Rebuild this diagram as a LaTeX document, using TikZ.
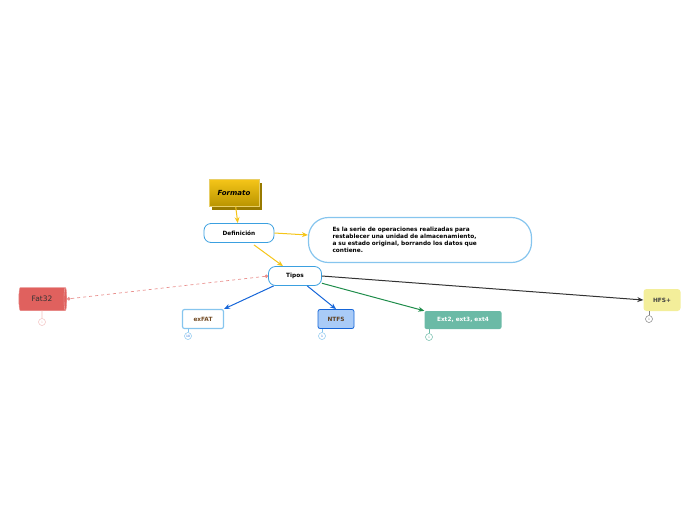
\documentclass[tikz,border=0pt]{standalone}
\usepackage{fontspec}
\setmainfont{DejaVu Sans}
\usetikzlibrary{arrows.meta,shapes.geometric,shadows,calc}
\definecolor{cbl}{HTML}{3BA0E0}
\definecolor{clbl}{HTML}{86C5EE}
\definecolor{cgold}{HTML}{D9AE00}
\definecolor{cyel}{HTML}{F5C518}
\definecolor{cfat}{HTML}{E0615E}
\definecolor{cblu}{HTML}{1565D8}
\definecolor{cgrn}{HTML}{1E8C4A}
\definecolor{cteal}{HTML}{6BBAA6}
\definecolor{chfs}{HTML}{F3EE9A}
\definecolor{cnt}{HTML}{A9CBF7}
\tikzset{
 every node/.style={font=\bfseries\fontsize{5.8}{7}\selectfont},
 rbox/.style={draw=cbl,line width=0.8pt,rounded corners=7pt,fill=white,minimum height=19pt,align=center},
 badge/.style={circle,draw,line width=0.5pt,minimum size=7pt,inner sep=0pt,font=\fontsize{3}{3}\selectfont,fill=white},
 arr/.style={-{Stealth[length=6pt,width=5pt]},line width=1pt},
}
\begin{document}
\begin{tikzpicture}[x=1pt,y=-1pt]
\useasboundingbox (0,0) rectangle (697,520);
\fill[cgold!70!black] (212,183) rectangle (262,210);
\node[draw=cgold!60!white,minimum width=50pt,minimum height=27pt,font=\itshape\bfseries\fontsize{7}{8}\selectfont,top color=cyel,bottom color=cgold!85!black] (fo) at (234,193) {Formato};
\node[rbox,minimum width=70pt] (de) at (239,233) {Definición};
\node[draw=clbl,line width=1.2pt,rounded corners=20pt,minimum width=223pt,minimum height=45pt,align=left,text width=175pt,fill=white] (ds) at (420,240) {Es la serie de operaciones realizadas para\\restablecer una unidad de almacenamiento,\\a su estado original, borrando los datos que\\contiene.};
\node[rbox,minimum width=53pt] (ti) at (295,276) {Tipos};
\node[cylinder,shape border rotate=0,aspect=0.5,draw=cfat!50!white,fill=cfat,cylinder uses custom fill,cylinder body fill=cfat,cylinder end fill=cfat!80!white,minimum width=23pt,minimum height=48pt,inner sep=0pt,font=\fontsize{7.5}{8}\selectfont,text=black!80] (fa) at (42,299) {Fat32};
\node[draw=clbl,line width=1.2pt,rounded corners=2pt,minimum width=41pt,minimum height=19pt,text=brown!60!black,fill=white] (ex) at (203,319) {exFAT};
\node[draw=cblu,line width=0.8pt,rounded corners=2pt,fill=cnt,minimum width=36pt,minimum height=19pt,text=brown!50!black] (nt) at (336,319) {NTFS};
\node[fill=cteal,rounded corners=2pt,minimum width=77pt,minimum height=18pt,text=white] (e2) at (463,320) {Ext2, ext3, ext4};
\node[fill=chfs,rounded corners=3pt,minimum width=37pt,minimum height=22pt,text=black!75] (hf) at (662,300) {HFS+};
\node[badge,draw=cfat!40!white,text=cfat!40!white] (b1) at (42,322) {1};
\node[badge,draw=clbl,text=cblu] (b2) at (188,336) {10};
\node[badge,draw=clbl,text=cblu] (b3) at (322,336) {1};
\node[badge,draw=cteal,text=cteal] (b4) at (429,337) {1};
\node[badge,draw=gray,text=gray] (b5) at (649,319) {1};
\draw[cfat!40!white,line width=0.6pt] (fa.south) -- (b1);
\draw[clbl,line width=0.6pt] (b2) -- (b2 |- ex.south);
\draw[clbl,line width=0.6pt] (b3) -- (b3 |- nt.south);
\draw[cteal,line width=0.6pt] (b4) -- (b4 |- e2.south);
\draw[gray,line width=0.6pt] (b5) -- (b5 |- hf.south);
\draw[arr,cyel] (fo) -- (de);
\draw[arr,cyel] (de.east) -- ($(ds.west)+(0,-5)$);
\draw[arr,cyel] ($(de.south)+(15,2)$) -- ($(ti.north)+(-12,0)$);
\draw[cfat!70!white,dashed,line width=0.7pt,{Circle[length=3.5pt]}-{Circle[length=3.5pt]}] (ti.west) -- (fa.east);
\draw[arr,cblu] (ti) -- (ex.north east);
\draw[arr,cblu] (ti) -- (nt.north);
\draw[arr,cgrn] (ti) -- (e2.north west);
\draw[arr,black!80] (ti.east) -- (hf.west);
\end{tikzpicture}
\end{document}
